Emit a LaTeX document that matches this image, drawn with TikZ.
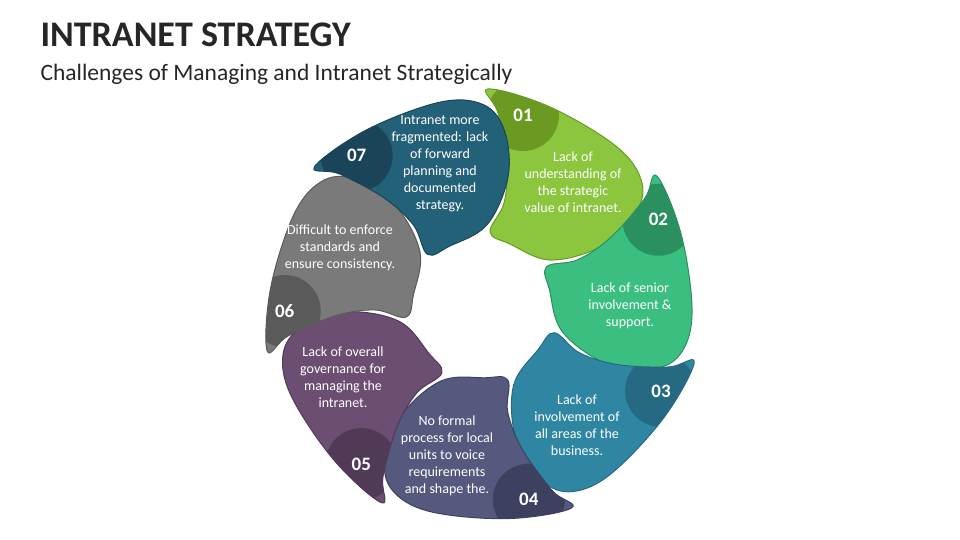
\documentclass[tikz,border=0pt]{standalone}
\usepackage{fontspec}
\setmainfont{Carlito}
\definecolor{cA}{HTML}{8CC63F}\definecolor{dA}{HTML}{6A9A22}
\definecolor{cB}{HTML}{3BBF80}\definecolor{dB}{HTML}{2A9060}
\definecolor{cC}{HTML}{2E86A3}\definecolor{dC}{HTML}{256A82}
\definecolor{cD}{HTML}{56597E}\definecolor{dD}{HTML}{3E4060}
\definecolor{cE}{HTML}{6C4E73}\definecolor{dE}{HTML}{503A56}
\definecolor{cF}{HTML}{7A7A7A}\definecolor{dF}{HTML}{5A5A5A}
\definecolor{cG}{HTML}{236178}\definecolor{dG}{HTML}{1A4558}
\definecolor{titlec}{HTML}{262626}
\tikzset{
 body/.style={text=white,align=center,font=\fontsize{14}{17}\selectfont},
 num/.style={text=white,font=\bfseries\fontsize{19}{19}\selectfont},
}
\def\petal{plot[smooth cycle,tension=0.6] coordinates{(6,219) (68,201) (135,161) (160,125) (152,92) (118,61) (68,48) (28,64) (8,76) (22,105) (25,145) (16,195)}}
\begin{document}
\begin{tikzpicture}[x=1pt,y=-1pt]
\useasboundingbox (0,0) rectangle (960,540);
\node[anchor=west,text=titlec,font=\bfseries\fontsize{36}{36}\selectfont] (title) at (37,35) {INTRANET STRATEGY};
\node[anchor=west,text=titlec,font=\fontsize{23.5}{23.5}\selectfont] (sub) at (37,74) {Challenges of Managing and Intranet Strategically};
\begin{scope}[shift={(482,308)},yscale=-1]
\foreach \k/\c/\d in {0/cA/dA,1/cB/dB,2/cC/dC,3/cD/dD,4/cE/dE,5/cF/dF,6/cG/dG}{
 \begin{scope}[rotate={\k*360/7}]
  \fill[\c,draw=\d,line width=1pt] \petal;
  \begin{scope}
   \clip \petal;
   \fill[\d] (41,193) circle (36);
  \end{scope}
 \end{scope}
}
\end{scope}
\foreach \k/\n in {0/01,1/02,2/03,3/04,4/05,5/06,6/07}{
 \pgfmathsetmacro\a{\k*360/7}
 \node[num] (n\n) at ({482+41*cos(\a)+193*sin(\a)},{308+41*sin(\a)-193*cos(\a)}) {\n};
}
\node[body] (t1) at (573,182) {Lack of\\understanding of\\the strategic\\value of intranet.};
\node[body] (t2) at (630,306) {Lack of senior\\involvement \&\\support.};
\node[body] (t3) at (577,425) {Lack of\\involvement of\\all areas of the\\business.};
\node[body] (t4) at (447,456) {No formal\\process for local\\units to voice\\requirements\\and shape the.};
\node[body] (t5) at (343,377) {Lack of overall\\governance for\\managing the\\intranet.};
\node[body] (t6) at (340,248) {Difficult to enforce\\standards and\\ensure consistency.};
\node[body] (t7) at (440,164) {Intranet more\\fragmented: lack\\of forward\\planning and\\documented\\strategy.};
\end{tikzpicture}
\end{document}
